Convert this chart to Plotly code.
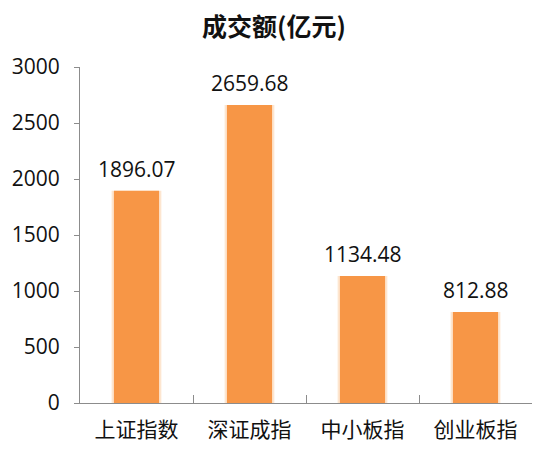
import plotly.graph_objects as go

categories = ["上证指数", "深证成指", "中小板指", "创业板指"]
values = [1896.07, 2659.68, 1134.48, 812.88]
labels = ["1896.07", "2659.68", "1134.48", "812.88"]
yticks = [0, 500, 1000, 1500, 2000, 2500, 3000]

fig = go.Figure()
# soft glow behind bars
fig.add_trace(go.Bar(x=categories, y=values, width=0.44,
                     marker=dict(color="rgba(250,200,150,0.45)", line=dict(width=0)),
                     hoverinfo="skip", showlegend=False))
fig.add_trace(go.Bar(x=categories, y=values, width=0.4,
                     marker=dict(color="#F79646", line=dict(width=0)),
                     showlegend=False))

for c, v, t in zip(categories, values, labels):
    fig.add_annotation(x=c, y=v, text=t, showarrow=False, yanchor="bottom", yshift=6,
                       font=dict(size=21, color="#111111", family="Open Sans, Noto Sans, sans-serif"))

fig.update_layout(
    width=548, height=457,
    margin=dict(l=76, r=16, t=67, b=54),
    paper_bgcolor="white", plot_bgcolor="white",
    barmode="overlay",
    title=dict(text="<b>成交额(亿元)</b>", x=0.5, xanchor="center", y=0.94, yanchor="middle",
               font=dict(size=25, color="#111111", family="Noto Sans CJK SC, sans-serif")),
    xaxis=dict(type="category", showline=True, linecolor="#8c8c8c", linewidth=1,
               ticks="inside", tickson="boundaries", ticklen=8, tickcolor="#8c8c8c",
               ticklabelstandoff=8,
               tickfont=dict(size=21, color="#111111", family="Noto Sans CJK SC, sans-serif"),
               showgrid=False, zeroline=False),
    yaxis=dict(range=[0, 3000], tickvals=yticks, showline=True, linecolor="#8c8c8c", linewidth=1,
               ticks="outside", ticklen=5, tickcolor="#8c8c8c", ticklabelstandoff=10,
               tickfont=dict(size=21, color="#111111", family="Open Sans, Noto Sans, sans-serif"),
               showgrid=False, zeroline=False),
    font=dict(family="Noto Sans CJK SC, sans-serif"),
)

fig.write_html("out.html")
